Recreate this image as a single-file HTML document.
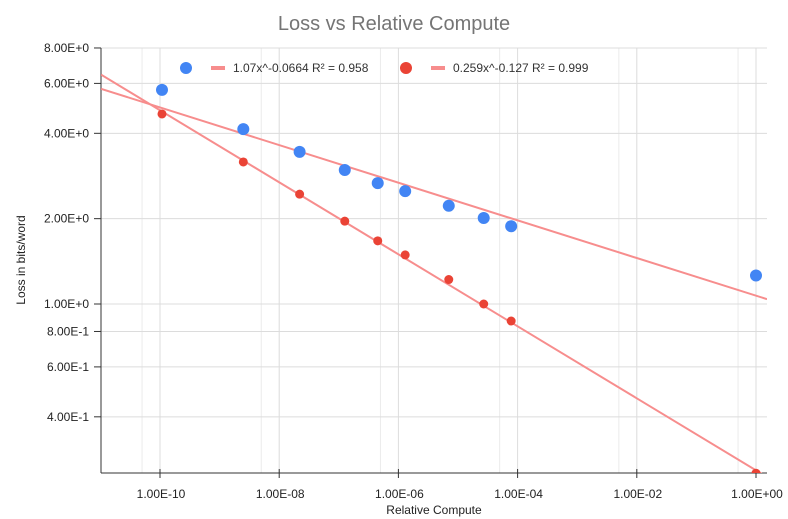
<!DOCTYPE html>
<html><head><meta charset="utf-8"><style>
html,body{margin:0;padding:0;background:#fff;}
svg{display:block;font-family:"Liberation Sans",Arial,sans-serif;}
</style></head><body>
<svg id="chart" width="788" height="519"></svg>
<script>
const blueX=[1.08e-10,2.5e-9,2.2e-8,1.26e-7,4.5e-7,1.3e-6,7e-6,2.7e-5,7.8e-5,1];
const blueY=[5.69,4.14,3.44,2.97,2.67,2.50,2.22,2.01,1.88,1.26];
const redX=[1.08e-10,2.5e-9,2.2e-8,1.26e-7,4.5e-7,1.3e-6,7e-6,2.7e-5,7.8e-5,1];
const redY=[4.68,3.17,2.44,1.96,1.67,1.49,1.22,1.00,0.871,0.253];
const blueFit=[1.07,-0.0664];
const redFit=[0.259,-0.127];
const xTicks=[1e-10,1e-8,1e-6,1e-4,1e-2,1];
const xTickLabels=["1.00E-10","1.00E-08","1.00E-06","1.00E-04","1.00E-02","1.00E+00"];
const xMinor=[5e-11,5e-9,5e-7,5e-5,5e-3,5e-1];
const yTicks=[8,6,4,2,1,0.8,0.6,0.4];
const yTickLabels=["8.00E+0","6.00E+0","4.00E+0","2.00E+0","1.00E+0","8.00E-1","6.00E-1","4.00E-1"];

const NS="http://www.w3.org/2000/svg";
const svg=document.getElementById('chart');
const L=101,R=767,T=48,B=473;
const X=v=>160+(Math.log10(v)+10)*59.6;
const Y=v=>304-Math.log10(v)*283.5;
const xMinV=Math.pow(10,(L-160)/59.6-10), xMaxV=Math.pow(10,(R-160)/59.6-10);
function el(tag,a,txt){const e=document.createElementNS(NS,tag);for(const k in a)e.setAttribute(k,a[k]);if(txt!=null)e.textContent=txt;svg.appendChild(e);return e;}

let t=el('text',{x:394,y:30,'text-anchor':'middle','font-size':20,fill:'#757575'},'Loss vs Relative Compute');


xMinor.forEach(v=>{const g=el('line',{x1:X(v),x2:X(v),y1:T,y2:B,stroke:'#ebebeb','stroke-width':1});
});
xTicks.forEach((v,i)=>{
 const g=el('line',{x1:X(v),x2:X(v),y1:T,y2:B,stroke:'#dcdcdc','stroke-width':1});
 
 const tk=el('line',{x1:X(v),x2:X(v),y1:B-4,y2:B+5,stroke:'#333','stroke-width':1});
 
 const lb=el('text',{x:X(v)+1,y:B+25,'text-anchor':'middle','font-size':12,fill:'#222'},xTickLabels[i]);
 
});
yTicks.forEach((v,i)=>{
 const g=el('line',{x1:L,x2:R,y1:Y(v),y2:Y(v),stroke:'#dcdcdc','stroke-width':1});
 
 const tk=el('line',{x1:L-7,x2:L,y1:Y(v),y2:Y(v),stroke:'#333','stroke-width':1});
 
 const lb=el('text',{x:L-12,y:Y(v)+4,'text-anchor':'end','font-size':12,fill:'#222'},yTickLabels[i]);
 
});
let ax=el('line',{x1:L,x2:L,y1:T,y2:B,stroke:'#333','stroke-width':1});

ax=el('line',{x1:L,x2:R,y1:B,y2:B,stroke:'#333','stroke-width':1});


const defs=el('defs',{});
const cp=document.createElementNS(NS,'clipPath');cp.setAttribute('id','plot');
const cr=document.createElementNS(NS,'rect');cr.setAttribute('x',L);cr.setAttribute('y',T-20);cr.setAttribute('width',R-L);cr.setAttribute('height',B-T+20);
cp.appendChild(cr);defs.appendChild(cp);

[[blueFit,'blue-trendline'],[redFit,'red-trendline']].forEach(([f,n])=>{
 const ln=el('line',{x1:L,y1:Y(f[0]*Math.pow(xMinV,f[1])),x2:R,y2:Y(f[0]*Math.pow(xMaxV,f[1])),stroke:'#f78d8d','stroke-width':2,'clip-path':'url(#plot)'});
 
});
blueX.forEach((v,i)=>{const c=el('circle',{cx:X(v),cy:Y(blueY[i]),r:6,fill:'#4285f4'});
 });
redX.forEach((v,i)=>{const c=el('circle',{cx:X(v),cy:Y(redY[i]),r:4.5,fill:'#ea4335','clip-path':'url(#plot)'});
 });

let lg=el('circle',{cx:186,cy:68,r:6,fill:'#4285f4'});
lg=el('line',{x1:211,x2:225,y1:68,y2:68,stroke:'#f78d8d','stroke-width':4});
lg=el('text',{x:233,y:72,'font-size':12,fill:'#333'},'1.07x^-0.0664 R² = 0.958');
lg=el('circle',{cx:406,cy:68,r:6,fill:'#ea4335'});
lg=el('line',{x1:431,x2:445,y1:68,y2:68,stroke:'#f78d8d','stroke-width':4});
lg=el('text',{x:453,y:72,'font-size':12,fill:'#333'},'0.259x^-0.127 R² = 0.999');

let at=el('text',{x:434,y:514,'text-anchor':'middle','font-size':12,fill:'#222'},'Relative Compute');

at=el('text',{x:0,y:0,'text-anchor':'middle','font-size':12,fill:'#222',transform:'translate(25,260) rotate(-90)'},'Loss in bits/word');

</script>
</body></html>
